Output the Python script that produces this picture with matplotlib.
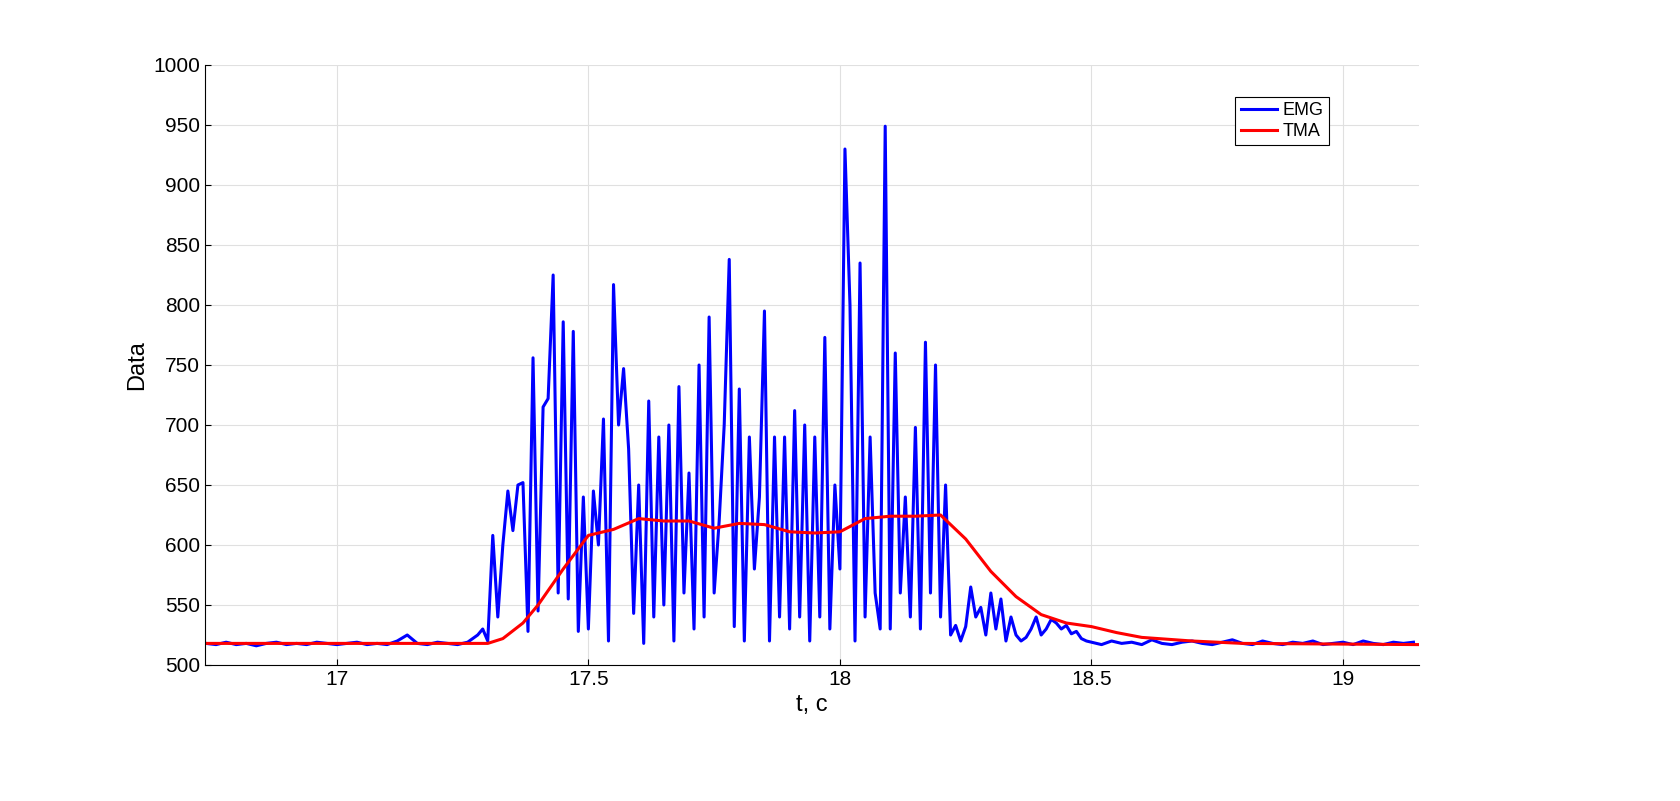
import numpy as np
import matplotlib
matplotlib.use("Agg")
import matplotlib.pyplot as plt

plt.rcParams['font.family'] = ['Liberation Sans', 'DejaVu Sans']

pre_vals = [518,517,519,517,518,516,518,519,517,518,517,519,518,517,518,519,517,518,517,520,525,518,517,519,518,517,519]
burst_vals = [525,530,520,608,540,600,645,612,650,652,528,756,545,715,722,825,560,786,555,778,
              528,640,530,645,600,705,520,817,700,747,680,543,650,518,720,540,690,550,700,520,
              732,560,660,530,750,540,790,560,620,700,838,532,730,520,690,580,640,795,520,690,
              540,690,530,712,540,700,520,690,540,773,530,650,580,930,800,520,835,540,690,560,
              530,949,530,760,560,640,540,698,530,769,560,750,540,650,525,533,520,532,565,540,
              548,525,560,530,555,520,540,525,520,523,530,540,525,530,538,535,530,533,526,528,
              522,520]
post_vals = [519,517,520,518,519,517,521,518,517,519,520,518,517,519,521,518,517,520,518,517,
             519,518,520,517,518,519,517,520,518,517,519,518,519]

t_pre = 16.74 + 0.02*np.arange(len(pre_vals))
t_burst = 17.28 + 0.01*np.arange(len(burst_vals))
t_post = 18.50 + 0.02*np.arange(len(post_vals))
t_emg = np.concatenate([t_pre, t_burst, t_post])
emg = np.concatenate([pre_vals, burst_vals, post_vals])

t_tma = [16.74,17.30,17.33,17.37,17.40,17.45,17.50,17.55,17.60,17.65,17.70,17.75,17.80,17.85,17.90,
         17.95,18.00,18.05,18.10,18.15,18.20,18.25,18.30,18.35,18.40,18.45,18.50,18.55,18.60,18.70,18.80,19.15]
tma = [518,518,522,535,550,580,608,613,622,620,620,614,618,617,611,
       610,611,622,624,624,625,605,578,557,542,535,532,527,523,520,518,517]

fig = plt.figure(figsize=(16.8, 8.01), dpi=100)
ax = fig.add_axes([205/1680, 136/801, 1214/1680, 600/801])
ax.plot(t_emg, emg, color='#0000ff', lw=2.2, label='EMG')
ax.plot(t_tma, tma, color='#ff0000', lw=2.2, label='TMA')
ax.set_xlim(16.738, 19.151)
ax.set_ylim(500, 1000)
ax.set_xticks([17, 17.5, 18, 18.5, 19])
ax.set_xticklabels(['17', '17.5', '18', '18.5', '19'])
ax.set_yticks(np.arange(500, 1001, 50))
ax.grid(True, color='#e0e0e0', lw=0.8)
ax.set_axisbelow(True)
for s in ['top', 'right']:
    ax.spines[s].set_visible(False)
ax.tick_params(labelsize=15, direction='in', length=4)
ax.set_xlabel('t, c', fontsize=17)
ax.set_ylabel('Data', fontsize=17)
leg = ax.legend(loc='upper right', bbox_to_anchor=(0.933, 0.962), fontsize=13,
                fancybox=False, edgecolor='black', framealpha=1, handlelength=2,
                borderpad=0.3, labelspacing=0.2, handletextpad=0.3)
leg.get_frame().set_linewidth(0.8)
fig.savefig('out.png', dpi=100)
